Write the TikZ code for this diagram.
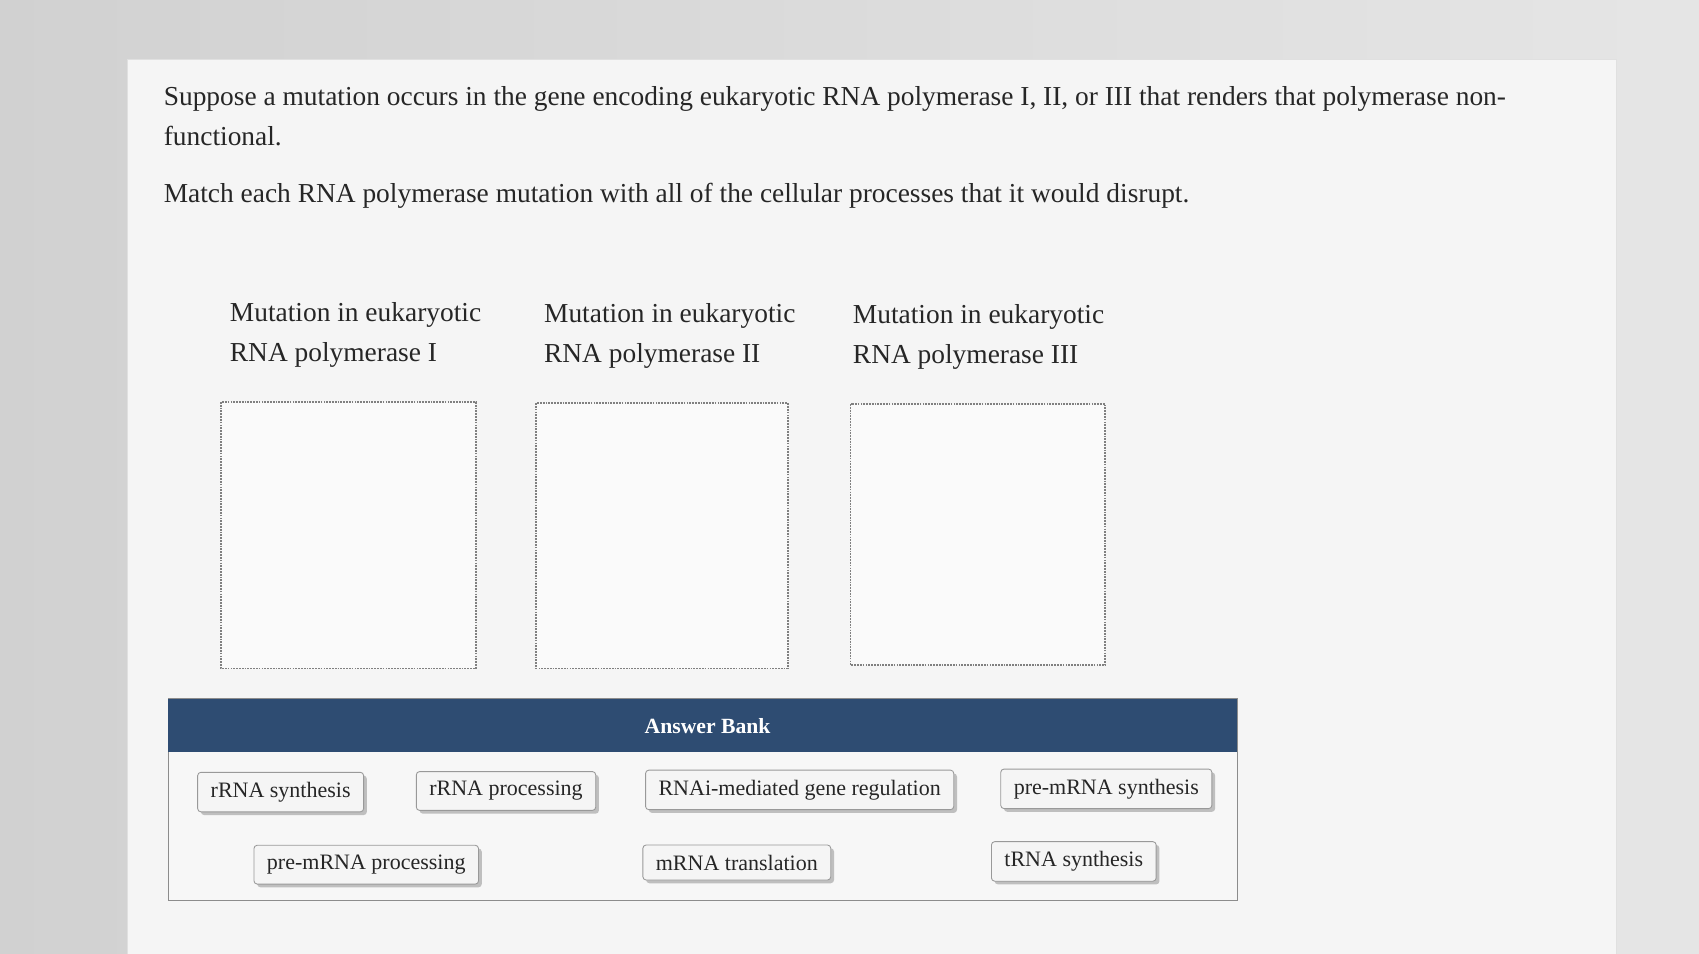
\documentclass[tikz,border=0pt]{standalone}
\usepackage{fontspec}
\setmainfont{Liberation Serif}
\begin{document}
\begin{tikzpicture}[x=1pt,y=-1pt,
  txt/.style={anchor=west,inner sep=0pt,font=\fontsize{25.3}{27}\selectfont,text=black!85},
  hd/.style={anchor=north west,inner sep=0pt,align=left,font=\fontsize{25.3}{37}\selectfont,text=black!85},
  drop/.style={draw=black!50,densely dotted,line width=1.6pt,fill=black!2},
  btn/.style={draw=black!40,fill=black!4,rounded corners=3pt,inner xsep=12pt,inner ysep=9pt,font=\fontsize{20.3}{24}\selectfont,text=black!85,line width=0.8pt}]
\useasboundingbox (0,0) rectangle (1568,880);
\shade[left color=black!18,right color=black!10] (0,0) rectangle (1568,880);
\fill[black!4] (117,55) rectangle (1492,880);
\draw[black!12] (117,55) -- (1492,55) -- (1492,880);
\draw[black!12] (117,55) -- (117,880);
\node[txt] (q1) at (151,91) {Suppose a mutation occurs in the gene encoding eukaryotic RNA polymerase I, II, or III that renders that polymerase non-};
\node[txt] (q2) at (151,126) {functional.};
\node[txt] (q3) at (151,181) {Match each RNA polymerase mutation with all of the cellular processes that it would disrupt.};
\node[hd] (h1) at (212,279) {Mutation in eukaryotic\\RNA polymerase I};
\node[hd] (h2) at (502,280) {Mutation in eukaryotic\\RNA polymerase II};
\node[hd] (h3) at (787,281) {Mutation in eukaryotic\\RNA polymerase III};
\draw[drop] (204,371) rectangle (439,617);
\draw[drop] (495,372) rectangle (727,617);
\draw[drop] (785,373) rectangle (1020,614);
\fill[black!3] (155,645) rectangle (1142,831);
\draw[black!45,line width=0.8pt] (155,645) rectangle (1142,831);
\fill[color={rgb,255:red,46;green,76;blue,114}] (155,645) rectangle (1142,694);
\node[font=\fontsize{20}{24}\selectfont\bfseries,text=white] (ab) at (653,670) {Answer Bank};
\foreach \n/\x/\y/\t in {b1/259/731/rRNA synthesis, b2/467/730/rRNA processing, b3/738/729/RNAi-mediated gene regulation, b4/1021/728/pre-mRNA synthesis, b5/338/798/pre-mRNA processing, b6/680/796/mRNA translation, b7/991/795/tRNA synthesis}{
  \node[btn,fill=black!25,draw=none] at (\x+3,\y+3) {\t};
  \node[btn] (\n) at (\x,\y) {\t};
}
\end{tikzpicture}
\end{document}
